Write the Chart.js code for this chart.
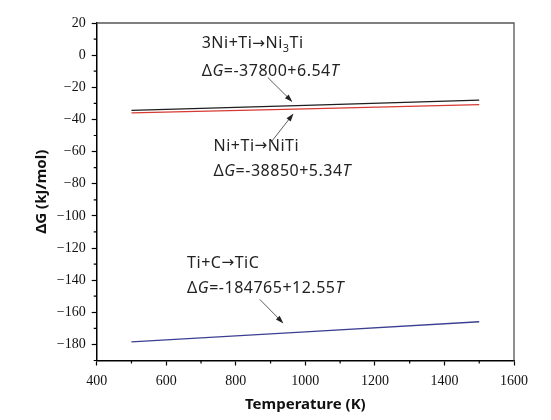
<!DOCTYPE html>
<html>
<head>
<meta charset="utf-8">
<script src="https://cdn.jsdelivr.net/npm/chart.js@4.4.1/dist/chart.umd.min.js"></script>
<style>
  html, body { margin: 0; padding: 0; background: #fff; }
  #wrap { width: 551px; height: 420px; }
</style>
</head>
<body>
<div id="wrap"><canvas id="gibbsChart" width="551" height="420"></canvas></div>
<script>
// values (kJ/mol at T in K)
const temps = [500, 1000, 1500];
const ni3tiG = [-34.4, -31.3, -28.0];
const nitiG = [-35.9, -33.4, -30.8];
const ticG = [-178.4, -172.2, -165.9];

const xTickLabels = [400, 600, 800, 1000, 1200, 1400, 1600];
const yTickLabels = [20, 0, -20, -40, -60, -80, -100, -120, -140, -160, -180];

// reaction notes: text lines + arrow, anchored in data units
const notes = [
  { x: 702, y: [7, -10], lines: [
      [['3Ni+Ti'], ['\u2192', 'arr'], ['Ni'], ['3', 'sub'], ['Ti']],
      [['\u0394'], ['G', 'i'], ['=-37800+6.54'], ['T', 'i']]
    ], arrow: [892, -13.9, 963, -29.1] },
  { x: 736, y: [-56.6, -72.2], lines: [
      [['Ni+Ti'], ['\u2192', 'arr'], ['NiTi']],
      [['\u0394'], ['G', 'i'], ['=-38850+5.34'], ['T', 'i']]
    ], arrow: [902, -54, 966, -36.3] },
  { x: 660, y: [-129.6, -145.1], lines: [
      [['Ti+C'], ['\u2192', 'arr'], ['TiC']],
      [['\u0394'], ['G', 'i'], ['=-184765+12.55'], ['T', 'i']]
    ], arrow: [869, -152, 937, -166.9] }
];

function pts(ys) { return temps.map((t, i) => ({ x: t, y: ys[i] })); }
function minus(v) { return String(v).replace('-', '\u2212'); }

function drawRich(ctx, x, y, parts, size) {
  let cx = x;
  parts.forEach(p => {
    const txt = p[0], st = p[1];
    const fs = st === 'sub' ? size * 0.68 : size;
    if (st === 'arr') ctx.font = (size * 0.95) + 'px "DejaVu Sans"';
    else ctx.font = (st === 'i' ? 'italic ' : '') + fs + 'px "Noto Sans"';
    ctx.fillText(txt, cx, y + (st === 'sub' ? size * 0.32 : 0));
    cx += ctx.measureText(txt).width;
  });
}

const extras = {
  id: 'extras',
  afterDraw(chart) {
    const { ctx, chartArea: a, scales: { x, y } } = chart;
    ctx.save();
    // frame top + right
    ctx.strokeStyle = '#555';
    ctx.lineWidth = 1.3;
    ctx.beginPath();
    ctx.moveTo(a.left, a.top); ctx.lineTo(a.right, a.top); ctx.lineTo(a.right, a.bottom);
    ctx.stroke();
    // minor ticks
    ctx.strokeStyle = '#000';
    ctx.lineWidth = 1.2;
    ctx.beginPath();
    x.ticks.forEach(t => {
      if (t.value % 200 !== 0) { const px = x.getPixelForValue(t.value); ctx.moveTo(px, a.bottom); ctx.lineTo(px, a.bottom + 3); }
    });
    y.ticks.forEach(t => {
      if (t.value % 20 !== 0) { const py = y.getPixelForValue(t.value); ctx.moveTo(a.left, py); ctx.lineTo(a.left - 3, py); }
    });
    ctx.stroke();
    // notes
    ctx.fillStyle = '#222';
    ctx.textBaseline = 'middle';
    ctx.textAlign = 'left';
    ctx.letterSpacing = '0.5px';
    notes.forEach(n => {
      n.lines.forEach((ln, i) => drawRich(ctx, x.getPixelForValue(n.x), y.getPixelForValue(n.y[i]), ln, 16));
      const x0 = x.getPixelForValue(n.arrow[0]), y0 = y.getPixelForValue(n.arrow[1]);
      const x1 = x.getPixelForValue(n.arrow[2]), y1 = y.getPixelForValue(n.arrow[3]);
      const ang = Math.atan2(y1 - y0, x1 - x0);
      ctx.strokeStyle = '#333';
      ctx.lineWidth = 0.8;
      ctx.beginPath(); ctx.moveTo(x0, y0); ctx.lineTo(x1 - 6 * Math.cos(ang), y1 - 6 * Math.sin(ang)); ctx.stroke();
      ctx.fillStyle = '#222';
      ctx.beginPath();
      ctx.moveTo(x1, y1);
      ctx.lineTo(x1 - 8 * Math.cos(ang) + 2.6 * Math.sin(ang), y1 - 8 * Math.sin(ang) - 2.6 * Math.cos(ang));
      ctx.lineTo(x1 - 8 * Math.cos(ang) - 2.6 * Math.sin(ang), y1 - 8 * Math.sin(ang) + 2.6 * Math.cos(ang));
      ctx.closePath(); ctx.fill();
    });
    ctx.restore();
  }
};

new Chart(document.getElementById('gibbsChart'), {
  type: 'line',
  data: {
    datasets: [
      { label: '3Ni+Ti\u2192Ni3Ti', data: pts(ni3tiG), borderColor: '#1e1e1e', borderWidth: 1.3 },
      { label: 'Ni+Ti\u2192NiTi', data: pts(nitiG), borderColor: '#d63a32', borderWidth: 1.3 },
      { label: 'Ti+C\u2192TiC', data: pts(ticG), borderColor: '#3b3f92', borderWidth: 1.3 }
    ]
  },
  options: {
    responsive: false,
    animation: false,
    devicePixelRatio: 1,
    layout: { padding: { top: 23, right: 37, left: 0, bottom: 0 } },
    elements: { point: { radius: 0 }, line: { tension: 0 } },
    plugins: { legend: { display: false }, tooltip: { enabled: false } },
    scales: {
      x: {
        type: 'linear', min: 400, max: 1600,
        afterFit(s) { s.height = 59.5; },
        border: { color: '#000', width: 1.5 },
        grid: { drawOnChartArea: false, tickLength: 5, tickWidth: 1.2,
          tickColor: c => (c.tick && xTickLabels.includes(c.tick.value)) ? '#000' : 'transparent' },
        ticks: { stepSize: 100, autoSkip: false, maxRotation: 0, padding: 7, color: '#111',
          font: { family: '"Liberation Serif"', size: 14 },
          callback: v => xTickLabels.includes(v) ? minus(v) : '' },
        title: { display: true, text: 'Temperature (K)', color: '#111',
          font: { family: '"Noto Sans"', size: 15, weight: 'bold' }, padding: { top: 0, bottom: 6 } }
      },
      y: {
        min: -190, max: 20,
        afterFit(s) { s.width = 96.7; },
        border: { color: '#000', width: 1.5 },
        grid: { drawOnChartArea: false, tickLength: 5, tickWidth: 1.2,
          tickColor: c => (c.tick && yTickLabels.includes(c.tick.value)) ? '#000' : 'transparent' },
        ticks: { stepSize: 10, autoSkip: false, padding: 6, color: '#111',
          font: { family: '"Liberation Serif"', size: 14 },
          callback: v => yTickLabels.includes(v) ? minus(v) : '' },
        title: { display: true, text: '\u0394G (kJ/mol)', color: '#111',
          font: { family: '"Noto Sans"', size: 15, weight: 'bold' }, padding: { top: 33, bottom: 0 } }
      }
    }
  },
  plugins: [extras]
});
</script>
</body>
</html>
